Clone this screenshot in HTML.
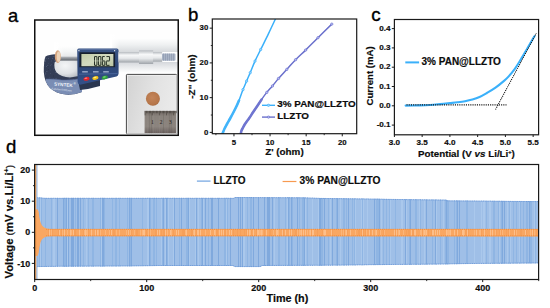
<!DOCTYPE html>
<html><head><meta charset="utf-8"><style>
html,body{margin:0;padding:0;background:#fff;}
body{width:550px;height:308px;overflow:hidden;font-family:"Liberation Sans",sans-serif;}
svg{display:block;}
</style></head><body>
<svg width="550" height="308" viewBox="0 0 550 308">
<rect width="550" height="308" fill="#fff"/>
<text x="8.0" y="21.7" font-size="18.4" font-family="Liberation Sans, sans-serif" fill="#000" stroke="#000" stroke-width="0.35">a</text>
<defs><clipPath id="ph"><rect x="35" y="20.5" width="143" height="114.5"/></clipPath>
<clipPath id="cf"><path id="cfp" d="M45.5,56.5 Q49,54.4 56,54.2 L57.5,60 L54.6,62.5 Q53.6,68 56.5,72.6 Q61,77 70,77.6 L79,76 L82,80 L82,92 Q75,95 66,94.6 Q56,93.5 50,88 Q44.4,82 43.8,72 Q43.8,60 45.5,56.5 Z"/></clipPath>
<radialGradient id="sh1" cx="0.5" cy="0.5" r="0.5"><stop offset="0" stop-color="#c6cace"/><stop offset="0.6" stop-color="#dcdfe2"/><stop offset="1" stop-color="#fdfdfd" stop-opacity="0"/></radialGradient>
<linearGradient id="sil" x1="0" y1="0" x2="0" y2="1"><stop offset="0" stop-color="#b8bcc1"/><stop offset="0.3" stop-color="#f7f8f9"/><stop offset="0.6" stop-color="#e6e8ea"/><stop offset="1" stop-color="#9fa4aa"/></linearGradient>
<linearGradient id="lcd" x1="0" y1="0" x2="1" y2="1"><stop offset="0" stop-color="#c2cca8"/><stop offset="0.5" stop-color="#d2dac0"/><stop offset="1" stop-color="#b9c4a2"/></linearGradient>
<linearGradient id="ins" x1="0" y1="0" x2="1" y2="0.3"><stop offset="0" stop-color="#d2d2d2"/><stop offset="0.55" stop-color="#e2e2e2"/><stop offset="1" stop-color="#eaeaea"/></linearGradient>
<linearGradient id="rul" x1="0" y1="0" x2="0" y2="1"><stop offset="0" stop-color="#6c645f"/><stop offset="0.25" stop-color="#8a837d"/><stop offset="0.7" stop-color="#8c857f"/><stop offset="1" stop-color="#6a605e"/></linearGradient>
<radialGradient id="pel" cx="0.45" cy="0.42" r="0.62"><stop offset="0" stop-color="#c4855a"/><stop offset="0.8" stop-color="#b6764a"/><stop offset="1" stop-color="#a2663e"/></radialGradient>
<linearGradient id="body" x1="0" y1="0" x2="0" y2="1"><stop offset="0" stop-color="#3b5686"/><stop offset="0.5" stop-color="#2d4676"/><stop offset="1" stop-color="#34518a"/></linearGradient>
</defs>
<g clip-path="url(#ph)">
<rect x="35" y="20.5" width="143" height="114.5" fill="#fefefe"/>
<linearGradient id="shA" x1="0" y1="0" x2="0" y2="1"><stop offset="0" stop-color="#ffffff"/><stop offset="0.5" stop-color="#eef0f1"/><stop offset="1" stop-color="#d6d9dc"/></linearGradient>
<linearGradient id="shB" x1="0" y1="0" x2="0" y2="1"><stop offset="0" stop-color="#d5d8dc"/><stop offset="1" stop-color="#ffffff"/></linearGradient>
<linearGradient id="shL" x1="0" y1="0" x2="1" y2="0"><stop offset="0" stop-color="#fff" stop-opacity="1"/><stop offset="1" stop-color="#fff" stop-opacity="0"/></linearGradient>
<rect x="112" y="38" width="66" height="14" fill="url(#shA)"/>
<rect x="112" y="62" width="66" height="11" fill="url(#shB)"/>
<rect x="110" y="34" width="10" height="42" fill="url(#shL)"/>
<rect x="58" y="46" width="20" height="10.5" fill="url(#shA)" opacity="0.6"/>
<rect x="54" y="42" width="10" height="16" fill="url(#shL)"/>
<radialGradient id="cin" cx="0.45" cy="0.3" r="0.7"><stop offset="0" stop-color="#f4f5f6"/><stop offset="0.6" stop-color="#dfe2e5"/><stop offset="1" stop-color="#b5bac0"/></radialGradient>
<rect x="53" y="60" width="27" height="19" fill="url(#cin)"/>
<use href="#cfp" fill="#333d56"/>
<g clip-path="url(#cf)">
<circle cx="53.3" cy="75.9" r="0.4" fill="#1f2638"/>
<circle cx="79.7" cy="72.9" r="0.4" fill="#7e88a2"/>
<circle cx="46.6" cy="53.6" r="0.4" fill="#6e7894"/>
<circle cx="54.1" cy="62.8" r="0.4" fill="#6e7894"/>
<circle cx="65.1" cy="76.1" r="0.4" fill="#6e7894"/>
<circle cx="68.9" cy="59.3" r="0.4" fill="#4a5470"/>
<circle cx="77.9" cy="75.0" r="0.4" fill="#5a6684"/>
<circle cx="70.2" cy="55.7" r="0.4" fill="#7e88a2"/>
<circle cx="45.7" cy="85.8" r="0.4" fill="#1f2638"/>
<circle cx="62.4" cy="83.2" r="0.4" fill="#6e7894"/>
<circle cx="71.9" cy="91.7" r="0.4" fill="#6e7894"/>
<circle cx="72.4" cy="77.2" r="0.4" fill="#4a5470"/>
<circle cx="78.3" cy="57.1" r="0.4" fill="#4a5470"/>
<circle cx="63.3" cy="63.8" r="0.4" fill="#6e7894"/>
<circle cx="74.4" cy="88.9" r="0.4" fill="#6e7894"/>
<circle cx="63.8" cy="69.2" r="0.4" fill="#1f2638"/>
<circle cx="64.8" cy="70.1" r="0.4" fill="#4a5470"/>
<circle cx="79.3" cy="81.6" r="0.4" fill="#5a6684"/>
<circle cx="77.4" cy="94.6" r="0.4" fill="#4a5470"/>
<circle cx="71.2" cy="66.7" r="0.4" fill="#7e88a2"/>
<circle cx="79.3" cy="76.9" r="0.4" fill="#4a5470"/>
<circle cx="68.7" cy="94.5" r="0.4" fill="#1f2638"/>
<circle cx="55.1" cy="55.7" r="0.4" fill="#6e7894"/>
<circle cx="47.5" cy="86.6" r="0.4" fill="#6e7894"/>
<circle cx="79.0" cy="53.8" r="0.4" fill="#6e7894"/>
<circle cx="74.0" cy="89.7" r="0.4" fill="#5a6684"/>
<circle cx="67.6" cy="85.0" r="0.4" fill="#6e7894"/>
<circle cx="72.0" cy="66.9" r="0.4" fill="#1f2638"/>
<circle cx="63.7" cy="94.9" r="0.4" fill="#1f2638"/>
<circle cx="44.3" cy="57.5" r="0.4" fill="#7e88a2"/>
<circle cx="45.2" cy="61.3" r="0.4" fill="#6e7894"/>
<circle cx="55.4" cy="64.1" r="0.4" fill="#5a6684"/>
<circle cx="82.2" cy="67.3" r="0.4" fill="#1f2638"/>
<circle cx="81.4" cy="90.7" r="0.4" fill="#6e7894"/>
<circle cx="58.7" cy="89.5" r="0.4" fill="#6e7894"/>
<circle cx="69.1" cy="78.0" r="0.4" fill="#7e88a2"/>
<circle cx="48.0" cy="93.9" r="0.4" fill="#7e88a2"/>
<circle cx="54.6" cy="79.6" r="0.4" fill="#4a5470"/>
<circle cx="80.5" cy="71.4" r="0.4" fill="#1f2638"/>
<circle cx="64.3" cy="76.0" r="0.4" fill="#5a6684"/>
<circle cx="74.7" cy="94.5" r="0.4" fill="#1f2638"/>
<circle cx="44.8" cy="78.9" r="0.4" fill="#4a5470"/>
<circle cx="46.3" cy="79.3" r="0.4" fill="#6e7894"/>
<circle cx="57.8" cy="91.5" r="0.4" fill="#7e88a2"/>
<circle cx="71.6" cy="84.0" r="0.4" fill="#5a6684"/>
<circle cx="67.0" cy="93.1" r="0.4" fill="#5a6684"/>
<circle cx="81.6" cy="63.5" r="0.4" fill="#6e7894"/>
<circle cx="55.6" cy="78.3" r="0.4" fill="#4a5470"/>
<circle cx="58.2" cy="66.1" r="0.4" fill="#1f2638"/>
<circle cx="76.9" cy="64.1" r="0.4" fill="#6e7894"/>
<circle cx="48.1" cy="87.1" r="0.4" fill="#7e88a2"/>
<circle cx="70.7" cy="58.5" r="0.4" fill="#7e88a2"/>
<circle cx="52.7" cy="86.8" r="0.4" fill="#4a5470"/>
<circle cx="56.8" cy="81.5" r="0.4" fill="#5a6684"/>
<circle cx="48.0" cy="66.5" r="0.4" fill="#1f2638"/>
<circle cx="70.3" cy="62.4" r="0.4" fill="#4a5470"/>
<circle cx="47.1" cy="84.2" r="0.4" fill="#4a5470"/>
<circle cx="78.5" cy="71.9" r="0.4" fill="#4a5470"/>
<circle cx="74.7" cy="54.4" r="0.4" fill="#4a5470"/>
<circle cx="56.3" cy="88.1" r="0.4" fill="#7e88a2"/>
<circle cx="51.2" cy="64.7" r="0.4" fill="#5a6684"/>
<circle cx="75.4" cy="67.5" r="0.4" fill="#4a5470"/>
<circle cx="60.4" cy="74.8" r="0.4" fill="#1f2638"/>
<circle cx="62.1" cy="79.6" r="0.4" fill="#1f2638"/>
<circle cx="60.4" cy="70.2" r="0.4" fill="#6e7894"/>
<circle cx="50.1" cy="53.2" r="0.4" fill="#7e88a2"/>
<circle cx="82.5" cy="71.2" r="0.4" fill="#4a5470"/>
<circle cx="45.3" cy="72.2" r="0.4" fill="#7e88a2"/>
<circle cx="81.6" cy="75.8" r="0.4" fill="#4a5470"/>
<circle cx="77.6" cy="89.0" r="0.4" fill="#1f2638"/>
<circle cx="48.7" cy="63.3" r="0.4" fill="#5a6684"/>
<circle cx="79.2" cy="82.1" r="0.4" fill="#4a5470"/>
<circle cx="79.0" cy="90.8" r="0.4" fill="#7e88a2"/>
<circle cx="45.9" cy="73.2" r="0.4" fill="#5a6684"/>
<circle cx="50.7" cy="65.6" r="0.4" fill="#5a6684"/>
<circle cx="64.5" cy="70.4" r="0.4" fill="#7e88a2"/>
<circle cx="48.4" cy="58.3" r="0.4" fill="#7e88a2"/>
<circle cx="62.6" cy="85.9" r="0.4" fill="#1f2638"/>
<circle cx="52.6" cy="58.1" r="0.4" fill="#5a6684"/>
<circle cx="50.7" cy="86.3" r="0.4" fill="#4a5470"/>
<circle cx="76.1" cy="53.3" r="0.4" fill="#7e88a2"/>
<circle cx="77.6" cy="55.1" r="0.4" fill="#1f2638"/>
<circle cx="53.7" cy="79.0" r="0.4" fill="#7e88a2"/>
<circle cx="60.5" cy="72.9" r="0.4" fill="#5a6684"/>
<circle cx="77.4" cy="85.6" r="0.4" fill="#5a6684"/>
<circle cx="48.9" cy="55.9" r="0.4" fill="#5a6684"/>
<circle cx="77.3" cy="56.6" r="0.4" fill="#7e88a2"/>
<circle cx="63.1" cy="59.6" r="0.4" fill="#5a6684"/>
<circle cx="57.7" cy="80.2" r="0.4" fill="#7e88a2"/>
<circle cx="55.9" cy="64.1" r="0.4" fill="#1f2638"/>
<circle cx="60.7" cy="58.4" r="0.4" fill="#5a6684"/>
<circle cx="71.9" cy="69.0" r="0.4" fill="#5a6684"/>
<circle cx="66.1" cy="54.8" r="0.4" fill="#6e7894"/>
<circle cx="67.6" cy="85.9" r="0.4" fill="#6e7894"/>
<circle cx="68.8" cy="54.8" r="0.4" fill="#6e7894"/>
<circle cx="46.1" cy="79.4" r="0.4" fill="#1f2638"/>
<circle cx="60.4" cy="82.2" r="0.4" fill="#6e7894"/>
<circle cx="44.7" cy="62.2" r="0.4" fill="#1f2638"/>
<circle cx="71.1" cy="56.0" r="0.4" fill="#6e7894"/>
<circle cx="52.8" cy="58.5" r="0.4" fill="#5a6684"/>
<circle cx="80.5" cy="68.7" r="0.4" fill="#7e88a2"/>
<circle cx="74.8" cy="64.0" r="0.4" fill="#6e7894"/>
<circle cx="70.9" cy="92.4" r="0.4" fill="#7e88a2"/>
<circle cx="74.9" cy="81.0" r="0.4" fill="#1f2638"/>
<circle cx="66.0" cy="57.3" r="0.4" fill="#7e88a2"/>
<circle cx="71.9" cy="72.9" r="0.4" fill="#4a5470"/>
<circle cx="74.2" cy="54.9" r="0.4" fill="#5a6684"/>
<circle cx="66.0" cy="80.7" r="0.4" fill="#6e7894"/>
<circle cx="51.0" cy="54.0" r="0.4" fill="#5a6684"/>
<circle cx="45.0" cy="57.8" r="0.4" fill="#6e7894"/>
<circle cx="76.6" cy="93.0" r="0.4" fill="#7e88a2"/>
<circle cx="55.7" cy="56.7" r="0.4" fill="#7e88a2"/>
<circle cx="63.9" cy="83.0" r="0.4" fill="#5a6684"/>
<circle cx="65.6" cy="57.2" r="0.4" fill="#7e88a2"/>
<circle cx="46.4" cy="66.6" r="0.4" fill="#7e88a2"/>
<circle cx="51.0" cy="56.2" r="0.4" fill="#4a5470"/>
<circle cx="69.2" cy="72.1" r="0.4" fill="#6e7894"/>
<circle cx="53.9" cy="78.2" r="0.4" fill="#1f2638"/>
<circle cx="65.7" cy="93.6" r="0.4" fill="#6e7894"/>
<circle cx="63.5" cy="93.9" r="0.4" fill="#6e7894"/>
<circle cx="76.9" cy="93.6" r="0.4" fill="#6e7894"/>
<circle cx="70.9" cy="84.8" r="0.4" fill="#7e88a2"/>
<circle cx="70.7" cy="59.6" r="0.4" fill="#6e7894"/>
<circle cx="79.0" cy="59.3" r="0.4" fill="#5a6684"/>
<circle cx="63.4" cy="73.3" r="0.4" fill="#7e88a2"/>
<circle cx="81.1" cy="77.6" r="0.4" fill="#4a5470"/>
<circle cx="49.3" cy="84.6" r="0.4" fill="#4a5470"/>
<circle cx="66.8" cy="66.2" r="0.4" fill="#4a5470"/>
<circle cx="77.2" cy="75.6" r="0.4" fill="#1f2638"/>
<circle cx="70.2" cy="88.9" r="0.4" fill="#7e88a2"/>
<circle cx="77.3" cy="77.6" r="0.4" fill="#1f2638"/>
<circle cx="78.7" cy="65.9" r="0.4" fill="#1f2638"/>
<circle cx="62.7" cy="69.1" r="0.4" fill="#4a5470"/>
<circle cx="66.2" cy="63.0" r="0.4" fill="#6e7894"/>
<circle cx="74.2" cy="59.0" r="0.4" fill="#6e7894"/>
<circle cx="71.4" cy="61.6" r="0.4" fill="#7e88a2"/>
<circle cx="76.5" cy="87.5" r="0.4" fill="#7e88a2"/>
<circle cx="45.1" cy="94.7" r="0.4" fill="#5a6684"/>
<circle cx="77.4" cy="69.8" r="0.4" fill="#5a6684"/>
<circle cx="62.2" cy="62.6" r="0.4" fill="#4a5470"/>
<circle cx="69.3" cy="85.6" r="0.4" fill="#5a6684"/>
<circle cx="81.4" cy="88.9" r="0.4" fill="#4a5470"/>
<circle cx="78.7" cy="85.6" r="0.4" fill="#4a5470"/>
<circle cx="51.3" cy="82.6" r="0.4" fill="#5a6684"/>
<circle cx="79.1" cy="63.7" r="0.4" fill="#5a6684"/>
<circle cx="56.2" cy="70.8" r="0.4" fill="#5a6684"/>
<circle cx="48.6" cy="64.1" r="0.4" fill="#1f2638"/>
<circle cx="45.4" cy="72.0" r="0.4" fill="#1f2638"/>
<circle cx="44.3" cy="67.1" r="0.4" fill="#6e7894"/>
<circle cx="58.8" cy="56.3" r="0.4" fill="#7e88a2"/>
<circle cx="73.0" cy="73.6" r="0.4" fill="#4a5470"/>
<circle cx="65.2" cy="58.0" r="0.4" fill="#1f2638"/>
<circle cx="47.0" cy="71.2" r="0.4" fill="#6e7894"/>
<circle cx="78.6" cy="91.2" r="0.4" fill="#5a6684"/>
<circle cx="64.6" cy="82.4" r="0.4" fill="#1f2638"/>
<circle cx="73.5" cy="65.4" r="0.4" fill="#1f2638"/>
<circle cx="48.2" cy="92.7" r="0.4" fill="#1f2638"/>
<circle cx="70.2" cy="75.5" r="0.4" fill="#5a6684"/>
<circle cx="70.0" cy="74.4" r="0.4" fill="#5a6684"/>
<circle cx="72.0" cy="81.5" r="0.4" fill="#7e88a2"/>
<circle cx="72.9" cy="80.1" r="0.4" fill="#4a5470"/>
<circle cx="51.0" cy="90.4" r="0.4" fill="#6e7894"/>
<circle cx="48.8" cy="92.1" r="0.4" fill="#4a5470"/>
<circle cx="79.9" cy="80.1" r="0.4" fill="#7e88a2"/>
<circle cx="60.4" cy="65.6" r="0.4" fill="#4a5470"/>
<circle cx="61.9" cy="66.1" r="0.4" fill="#4a5470"/>
<circle cx="71.5" cy="57.5" r="0.4" fill="#4a5470"/>
<circle cx="73.4" cy="75.8" r="0.4" fill="#6e7894"/>
<circle cx="58.0" cy="64.2" r="0.4" fill="#6e7894"/>
<circle cx="46.1" cy="58.7" r="0.4" fill="#6e7894"/>
<circle cx="63.7" cy="63.4" r="0.4" fill="#7e88a2"/>
<circle cx="57.8" cy="67.0" r="0.4" fill="#6e7894"/>
<circle cx="61.5" cy="87.0" r="0.4" fill="#5a6684"/>
<circle cx="57.8" cy="88.6" r="0.4" fill="#5a6684"/>
<circle cx="49.9" cy="77.8" r="0.4" fill="#5a6684"/>
<circle cx="66.0" cy="91.2" r="0.4" fill="#5a6684"/>
<circle cx="51.2" cy="60.9" r="0.4" fill="#6e7894"/>
<circle cx="70.1" cy="69.4" r="0.4" fill="#4a5470"/>
<circle cx="67.1" cy="59.2" r="0.4" fill="#6e7894"/>
<circle cx="75.1" cy="75.9" r="0.4" fill="#4a5470"/>
<circle cx="66.2" cy="61.5" r="0.4" fill="#1f2638"/>
<circle cx="58.4" cy="65.3" r="0.4" fill="#6e7894"/>
<circle cx="78.8" cy="92.9" r="0.4" fill="#6e7894"/>
<circle cx="56.3" cy="91.1" r="0.4" fill="#1f2638"/>
<circle cx="68.7" cy="94.0" r="0.4" fill="#1f2638"/>
<circle cx="78.9" cy="81.0" r="0.4" fill="#5a6684"/>
<circle cx="67.5" cy="83.5" r="0.4" fill="#5a6684"/>
<circle cx="48.2" cy="84.8" r="0.4" fill="#4a5470"/>
<circle cx="63.2" cy="75.0" r="0.4" fill="#6e7894"/>
<circle cx="51.8" cy="85.9" r="0.4" fill="#4a5470"/>
<circle cx="45.4" cy="74.0" r="0.4" fill="#6e7894"/>
<circle cx="48.4" cy="64.9" r="0.4" fill="#4a5470"/>
<circle cx="49.3" cy="86.3" r="0.4" fill="#7e88a2"/>
<circle cx="80.0" cy="54.1" r="0.4" fill="#7e88a2"/>
<circle cx="53.1" cy="56.3" r="0.4" fill="#7e88a2"/>
<circle cx="44.7" cy="67.3" r="0.4" fill="#1f2638"/>
<circle cx="77.9" cy="82.2" r="0.4" fill="#4a5470"/>
<circle cx="47.1" cy="88.2" r="0.4" fill="#5a6684"/>
<circle cx="71.9" cy="84.1" r="0.4" fill="#1f2638"/>
<circle cx="82.9" cy="61.6" r="0.4" fill="#5a6684"/>
<circle cx="77.6" cy="71.4" r="0.4" fill="#4a5470"/>
<circle cx="62.9" cy="57.6" r="0.4" fill="#5a6684"/>
<circle cx="59.9" cy="88.5" r="0.4" fill="#4a5470"/>
<circle cx="59.3" cy="72.9" r="0.4" fill="#5a6684"/>
<circle cx="65.0" cy="70.7" r="0.4" fill="#6e7894"/>
<circle cx="55.9" cy="72.5" r="0.4" fill="#6e7894"/>
<circle cx="61.1" cy="72.1" r="0.4" fill="#5a6684"/>
<circle cx="72.1" cy="68.4" r="0.4" fill="#1f2638"/>
<circle cx="61.5" cy="68.2" r="0.4" fill="#6e7894"/>
<circle cx="52.7" cy="53.1" r="0.4" fill="#4a5470"/>
<circle cx="54.1" cy="68.5" r="0.4" fill="#6e7894"/>
<circle cx="64.8" cy="59.7" r="0.4" fill="#5a6684"/>
<circle cx="50.7" cy="70.0" r="0.4" fill="#4a5470"/>
<circle cx="68.8" cy="58.8" r="0.4" fill="#7e88a2"/>
<circle cx="50.6" cy="73.6" r="0.4" fill="#5a6684"/>
<circle cx="76.8" cy="69.9" r="0.4" fill="#1f2638"/>
<circle cx="59.9" cy="82.5" r="0.4" fill="#5a6684"/>
<circle cx="53.3" cy="54.6" r="0.4" fill="#6e7894"/>
<circle cx="45.0" cy="93.6" r="0.4" fill="#4a5470"/>
<circle cx="53.4" cy="69.3" r="0.4" fill="#4a5470"/>
<circle cx="50.4" cy="79.1" r="0.4" fill="#1f2638"/>
<circle cx="79.6" cy="78.0" r="0.4" fill="#1f2638"/>
<circle cx="54.7" cy="86.1" r="0.4" fill="#6e7894"/>
<circle cx="74.8" cy="93.4" r="0.4" fill="#6e7894"/>
<circle cx="53.7" cy="64.2" r="0.4" fill="#1f2638"/>
<circle cx="68.5" cy="67.5" r="0.4" fill="#5a6684"/>
<circle cx="46.2" cy="71.3" r="0.4" fill="#5a6684"/>
<circle cx="67.1" cy="53.2" r="0.4" fill="#5a6684"/>
<circle cx="70.6" cy="53.8" r="0.4" fill="#7e88a2"/>
<circle cx="45.4" cy="55.3" r="0.4" fill="#7e88a2"/>
<circle cx="79.1" cy="61.4" r="0.4" fill="#6e7894"/>
<circle cx="57.3" cy="73.1" r="0.4" fill="#1f2638"/>
<circle cx="80.7" cy="54.4" r="0.4" fill="#1f2638"/>
<circle cx="73.3" cy="79.5" r="0.4" fill="#6e7894"/>
<circle cx="47.4" cy="65.3" r="0.4" fill="#6e7894"/>
<circle cx="48.5" cy="69.4" r="0.4" fill="#1f2638"/>
<circle cx="64.9" cy="85.7" r="0.4" fill="#6e7894"/>
<circle cx="50.8" cy="84.1" r="0.4" fill="#6e7894"/>
<circle cx="76.6" cy="76.2" r="0.4" fill="#4a5470"/>
<circle cx="58.2" cy="70.4" r="0.4" fill="#4a5470"/>
<circle cx="61.3" cy="82.5" r="0.4" fill="#1f2638"/>
<circle cx="54.5" cy="60.1" r="0.4" fill="#7e88a2"/>
<circle cx="79.7" cy="82.3" r="0.4" fill="#6e7894"/>
<circle cx="45.7" cy="60.2" r="0.4" fill="#5a6684"/>
<circle cx="76.1" cy="56.9" r="0.4" fill="#5a6684"/>
<circle cx="56.5" cy="78.2" r="0.4" fill="#5a6684"/>
<circle cx="78.3" cy="89.6" r="0.4" fill="#6e7894"/>
<circle cx="62.2" cy="89.5" r="0.4" fill="#1f2638"/>
<circle cx="82.9" cy="53.1" r="0.4" fill="#4a5470"/>
<circle cx="59.6" cy="93.1" r="0.4" fill="#5a6684"/>
<circle cx="57.2" cy="66.1" r="0.4" fill="#6e7894"/>
<circle cx="47.2" cy="80.3" r="0.4" fill="#4a5470"/>
<circle cx="70.8" cy="94.1" r="0.4" fill="#4a5470"/>
<circle cx="66.8" cy="53.5" r="0.4" fill="#4a5470"/>
<circle cx="55.2" cy="61.8" r="0.4" fill="#7e88a2"/>
<circle cx="64.1" cy="74.2" r="0.4" fill="#7e88a2"/>
<circle cx="56.4" cy="90.1" r="0.4" fill="#4a5470"/>
<circle cx="62.2" cy="79.1" r="0.4" fill="#5a6684"/>
<circle cx="76.2" cy="57.7" r="0.4" fill="#5a6684"/>
<circle cx="77.5" cy="57.3" r="0.4" fill="#1f2638"/>
<path d="M46,79 Q55,78.5 62,80 Q72,80.6 82,78.3 L82,96 L40,96 Z" fill="#7a8db4"/>
<path d="M46,79 Q55,78.5 62,80 Q72,80.6 82,78.3" fill="none" stroke="#4f6290" stroke-width="0.6"/>
</g>
<text x="54" y="85.6" font-size="4.6" font-weight="bold" font-family="Liberation Sans, sans-serif" fill="#f2f5fa" transform="rotate(4 54 85)">SYNTEK</text>
<text x="73.6" y="85" font-size="3" font-weight="bold" font-family="Liberation Sans, sans-serif" fill="#f2f5fa">®</text>
<text x="51.5" y="89.5" font-size="2.5" font-family="Liberation Sans, sans-serif" fill="#e4e9f2" transform="rotate(6 51 89)">0-25mm 0.001mm</text>
<linearGradient id="sil2" x1="0" y1="0" x2="0" y2="1"><stop offset="0" stop-color="#c4c7cb"/><stop offset="0.35" stop-color="#9a9ea4"/><stop offset="1" stop-color="#5e636b"/></linearGradient>
<rect x="58" y="56.4" width="21" height="4.2" fill="url(#sil2)"/>
<ellipse cx="57.8" cy="56.6" rx="3.0" ry="6.3" fill="#d4a27c"/>
<ellipse cx="58.6" cy="56.8" rx="1.9" ry="5.3" fill="#ecd3b8"/>
<path d="M78,80 L100,80 L100,86 Q90,89 80,90 Z" fill="#2a3650"/>
<path d="M77.2,50.2 Q77.2,48.6 78.8,48.6 L116.8,48.6 Q118.6,48.6 118.6,50.4 L118.6,73.5 Q118.4,76 116.5,76.4 L81,84.6 Q78.2,85 77.6,82 Z" fill="url(#body)"/>
<path d="M78.6,49.3 L117,49.3" stroke="#6b83b0" stroke-width="0.7"/>
<rect x="78.3" y="50.1" width="1.2" height="1.1" fill="#e8ecf2"/><rect x="114" y="50.1" width="1.2" height="1.1" fill="#e8ecf2"/>
<rect x="79.4" y="52.3" width="35.7" height="14.9" fill="#17202e"/>
<rect x="81.4" y="54" width="32" height="12.2" fill="url(#lcd)"/>
<rect x="94.57" y="56.10" width="2.26" height="0.95" fill="#1e281e"/>
<rect x="94.57" y="64.85" width="2.26" height="0.95" fill="#1e281e"/>
<rect x="94.00" y="56.58" width="0.95" height="4.09" fill="#1e281e"/>
<rect x="96.45" y="56.58" width="0.95" height="4.09" fill="#1e281e"/>
<rect x="94.00" y="61.23" width="0.95" height="4.09" fill="#1e281e"/>
<rect x="96.45" y="61.23" width="0.95" height="4.09" fill="#1e281e"/>
<rect x="98.52" y="56.10" width="2.26" height="0.95" fill="#1e281e"/>
<rect x="98.52" y="64.85" width="2.26" height="0.95" fill="#1e281e"/>
<rect x="97.95" y="56.58" width="0.95" height="4.09" fill="#1e281e"/>
<rect x="100.40" y="56.58" width="0.95" height="4.09" fill="#1e281e"/>
<rect x="97.95" y="61.23" width="0.95" height="4.09" fill="#1e281e"/>
<rect x="100.40" y="61.23" width="0.95" height="4.09" fill="#1e281e"/>
<rect x="102.47" y="56.10" width="2.26" height="0.95" fill="#1e281e"/>
<rect x="102.47" y="64.85" width="2.26" height="0.95" fill="#1e281e"/>
<rect x="102.47" y="60.48" width="2.26" height="0.95" fill="#1e281e"/>
<rect x="101.90" y="56.58" width="0.95" height="4.09" fill="#1e281e"/>
<rect x="101.90" y="61.23" width="0.95" height="4.09" fill="#1e281e"/>
<rect x="104.35" y="61.23" width="0.95" height="4.09" fill="#1e281e"/>
<rect x="106.42" y="56.10" width="3.06" height="0.95" fill="#1e281e"/>
<rect x="106.42" y="64.85" width="3.06" height="0.95" fill="#1e281e"/>
<rect x="106.42" y="60.48" width="3.06" height="0.95" fill="#1e281e"/>
<rect x="109.10" y="56.58" width="0.95" height="4.09" fill="#1e281e"/>
<rect x="105.85" y="61.23" width="0.95" height="4.09" fill="#1e281e"/>
<rect x="82.2" y="71.3" width="5.6" height="1.1" fill="#b8c6e0"/>
<rect x="93.0" y="71.3" width="5.6" height="1.1" fill="#b8c6e0"/>
<rect x="103.2" y="71.3" width="5.6" height="1.1" fill="#b8c6e0"/>
<path d="M79,74.2 L117.5,73.6" stroke="#5170a6" stroke-width="0.7"/>
<ellipse cx="86.5" cy="78.8" rx="3.1" ry="1.9" fill="#e3232a" transform="rotate(-12 86.5 78.8)"/>
<ellipse cx="86.0" cy="78.3" rx="1.6" ry="0.7" fill="#ff7a7a" transform="rotate(-12 86 78.3)"/>
<ellipse cx="95.4" cy="78.0" rx="3.1" ry="1.9" fill="#f2c21a" transform="rotate(-12 95.4 78)"/>
<ellipse cx="95.0" cy="77.5" rx="1.6" ry="0.7" fill="#fff07a" transform="rotate(-12 95 77.5)"/>
<ellipse cx="104.8" cy="77.5" rx="3.1" ry="1.9" fill="#2ea23c" transform="rotate(-12 104.8 77.5)"/>
<ellipse cx="104.4" cy="77.0" rx="1.6" ry="0.7" fill="#7ad67a" transform="rotate(-12 104.4 77)"/>
<rect x="118.4" y="52" width="21" height="10.5" fill="url(#sil)"/>
<rect x="139" y="50.3" width="14.2" height="13.7" fill="url(#sil)"/>
<rect x="153" y="52" width="9.2" height="9.8" fill="url(#sil)"/>
<rect x="162" y="53.5" width="13.5" height="7.3" rx="1" fill="#a9b4c6"/>
<rect x="163.0" y="53.6" width="0.9" height="7.1" fill="#8a96ac" opacity="0.7"/>
<rect x="165.0" y="53.6" width="0.9" height="7.1" fill="#8a96ac" opacity="0.7"/>
<rect x="167.0" y="53.6" width="0.9" height="7.1" fill="#8a96ac" opacity="0.7"/>
<rect x="169.0" y="53.6" width="0.9" height="7.1" fill="#8a96ac" opacity="0.7"/>
<rect x="171.0" y="53.6" width="0.9" height="7.1" fill="#8a96ac" opacity="0.7"/>
<rect x="173.0" y="53.6" width="0.9" height="7.1" fill="#8a96ac" opacity="0.7"/>
<rect x="126.4" y="74.4" width="50.2" height="59.2" rx="0.8" fill="url(#ins)" stroke="#484848" stroke-width="1"/>
<rect x="127.4" y="75.4" width="49" height="58" fill="none" stroke="#f2f2f2" stroke-width="0.7"/>
<circle cx="152.9" cy="98.7" r="7.0" fill="url(#pel)"/>
<rect x="144.6" y="110.9" width="31.4" height="22.2" fill="url(#rul)"/>
<rect x="145.5" y="111" width="0.7" height="22.3" fill="#9a928c" opacity="0.35"/>
<rect x="147.4" y="111" width="0.7" height="22.3" fill="#9a928c" opacity="0.35"/>
<rect x="149.4" y="111" width="0.7" height="22.3" fill="#5a524c" opacity="0.35"/>
<rect x="151.3" y="111" width="0.7" height="22.3" fill="#5a524c" opacity="0.35"/>
<rect x="153.3" y="111" width="0.7" height="22.3" fill="#9a928c" opacity="0.35"/>
<rect x="155.2" y="111" width="0.7" height="22.3" fill="#8a827c" opacity="0.35"/>
<rect x="157.2" y="111" width="0.7" height="22.3" fill="#8a827c" opacity="0.35"/>
<rect x="159.2" y="111" width="0.7" height="22.3" fill="#9a928c" opacity="0.35"/>
<rect x="161.1" y="111" width="0.7" height="22.3" fill="#8a827c" opacity="0.35"/>
<rect x="163.1" y="111" width="0.7" height="22.3" fill="#5a524c" opacity="0.35"/>
<rect x="165.0" y="111" width="0.7" height="22.3" fill="#8a827c" opacity="0.35"/>
<rect x="166.9" y="111" width="0.7" height="22.3" fill="#8a827c" opacity="0.35"/>
<rect x="168.9" y="111" width="0.7" height="22.3" fill="#5a524c" opacity="0.35"/>
<rect x="170.8" y="111" width="0.7" height="22.3" fill="#5a524c" opacity="0.35"/>
<rect x="172.8" y="111" width="0.7" height="22.3" fill="#8a827c" opacity="0.35"/>
<rect x="174.8" y="111" width="0.7" height="22.3" fill="#8a827c" opacity="0.35"/>
<rect x="144.80" y="110.8" width="0.5" height="4.5" fill="#3c3833"/>
<rect x="146.22" y="110.8" width="0.5" height="2.4" fill="#3c3833"/>
<rect x="147.64" y="110.8" width="0.5" height="2.4" fill="#3c3833"/>
<rect x="149.06" y="110.8" width="0.5" height="2.4" fill="#3c3833"/>
<rect x="150.48" y="110.8" width="0.5" height="2.4" fill="#3c3833"/>
<rect x="151.90" y="110.8" width="0.5" height="4.5" fill="#3c3833"/>
<rect x="153.32" y="110.8" width="0.5" height="2.4" fill="#3c3833"/>
<rect x="154.74" y="110.8" width="0.5" height="2.4" fill="#3c3833"/>
<rect x="156.16" y="110.8" width="0.5" height="2.4" fill="#3c3833"/>
<rect x="157.58" y="110.8" width="0.5" height="2.4" fill="#3c3833"/>
<rect x="159.00" y="110.8" width="0.5" height="4.5" fill="#3c3833"/>
<rect x="160.42" y="110.8" width="0.5" height="2.4" fill="#3c3833"/>
<rect x="161.84" y="110.8" width="0.5" height="2.4" fill="#3c3833"/>
<rect x="163.26" y="110.8" width="0.5" height="2.4" fill="#3c3833"/>
<rect x="164.68" y="110.8" width="0.5" height="2.4" fill="#3c3833"/>
<rect x="166.10" y="110.8" width="0.5" height="4.5" fill="#3c3833"/>
<rect x="167.52" y="110.8" width="0.5" height="2.4" fill="#3c3833"/>
<rect x="168.94" y="110.8" width="0.5" height="2.4" fill="#3c3833"/>
<rect x="170.36" y="110.8" width="0.5" height="2.4" fill="#3c3833"/>
<rect x="171.78" y="110.8" width="0.5" height="2.4" fill="#3c3833"/>
<rect x="173.20" y="110.8" width="0.5" height="4.5" fill="#3c3833"/>
<rect x="174.62" y="110.8" width="0.5" height="2.4" fill="#3c3833"/>
<rect x="176.04" y="110.8" width="0.5" height="2.4" fill="#3c3833"/>
<text x="152.3" y="124.0" font-size="5.4" font-family="Liberation Serif, serif" fill="#1e1a16" text-anchor="middle">1</text>
<text x="161.2" y="124.0" font-size="5.4" font-family="Liberation Serif, serif" fill="#1e1a16" text-anchor="middle">2</text>
<text x="170.3" y="124.0" font-size="5.4" font-family="Liberation Serif, serif" fill="#1e1a16" text-anchor="middle">3</text>
</g>
<rect x="34.75" y="20" width="143.5" height="115.3" fill="none" stroke="#111" stroke-width="1.5"/>
<text x="188.1" y="21.4" font-size="18.6" font-family="Liberation Sans, sans-serif" fill="#000" stroke="#000" stroke-width="0.35">b</text>
<clipPath id="bclip"><rect x="212.3" y="19.0" width="144.4" height="114.7"/></clipPath>
<g clip-path="url(#bclip)">
<path d="M240.80,133.60 C240.92,133.10 241.20,131.47 241.50,130.60 C241.80,129.73 242.02,129.50 242.60,128.40 C243.18,127.30 243.88,125.73 245.00,124.00 C246.12,122.27 247.93,120.00 249.30,118.00 C250.67,116.00 251.87,114.00 253.20,112.00 C254.53,110.00 255.92,108.07 257.30,106.00 C258.68,103.93 259.92,101.87 261.50,99.60 C263.08,97.33 264.97,94.68 266.80,92.40 C268.63,90.12 270.55,88.22 272.50,85.90 C274.45,83.58 276.12,81.25 278.50,78.50 C280.88,75.75 283.95,72.53 286.80,69.40 C289.65,66.27 292.47,62.92 295.60,59.70 C298.73,56.48 301.87,53.77 305.60,50.10 C309.33,46.43 313.63,42.03 318.00,37.70 C322.37,33.37 329.50,26.37 331.80,24.10" fill="none" stroke="#6a70cc" stroke-width="1.5" stroke-linejoin="round"/>
<path d="M240.80,133.60 C240.92,133.10 241.20,131.47 241.50,130.60 C241.80,129.73 242.02,129.50 242.60,128.40 C243.18,127.30 243.88,125.73 245.00,124.00 C246.12,122.27 247.93,120.00 249.30,118.00 C250.67,116.00 251.87,114.00 253.20,112.00 C254.53,110.00 255.92,108.07 257.30,106.00 C258.68,103.93 260.80,100.67 261.50,99.60" fill="none" stroke="#6f75d0" stroke-width="2.6" stroke-linejoin="round" stroke-linecap="round"/>
<circle cx="266.8" cy="92.4" r="1.2" fill="#b4b8f0" stroke="#6a70cc" stroke-width="0.6"/>
<circle cx="272.5" cy="85.9" r="1.2" fill="#b4b8f0" stroke="#6a70cc" stroke-width="0.6"/>
<circle cx="278.5" cy="78.5" r="1.2" fill="#b4b8f0" stroke="#6a70cc" stroke-width="0.6"/>
<circle cx="286.8" cy="69.4" r="1.2" fill="#b4b8f0" stroke="#6a70cc" stroke-width="0.6"/>
<circle cx="295.6" cy="59.7" r="1.2" fill="#b4b8f0" stroke="#6a70cc" stroke-width="0.6"/>
<circle cx="305.6" cy="50.1" r="1.2" fill="#b4b8f0" stroke="#6a70cc" stroke-width="0.6"/>
<circle cx="318.0" cy="37.7" r="1.2" fill="#b4b8f0" stroke="#6a70cc" stroke-width="0.6"/>
<circle cx="331.8" cy="24.1" r="1.2" fill="#b4b8f0" stroke="#6a70cc" stroke-width="0.6"/>
<path d="M222.60,133.50 C222.93,132.67 223.87,130.08 224.60,128.50 C225.33,126.92 226.03,125.75 227.00,124.00 C227.97,122.25 229.30,120.00 230.40,118.00 C231.50,116.00 232.57,114.00 233.60,112.00 C234.63,110.00 235.70,107.92 236.60,106.00 C237.50,104.08 237.93,103.23 239.00,100.50 C240.07,97.77 241.73,92.83 243.00,89.60 C244.27,86.37 245.40,83.92 246.60,81.10 C247.80,78.28 248.80,76.03 250.20,72.70 C251.60,69.37 253.25,64.97 255.00,61.10 C256.75,57.23 258.47,54.03 260.70,49.50 C262.93,44.97 265.92,39.05 268.40,33.90 C270.88,28.75 274.40,21.15 275.60,18.60" fill="none" stroke="#3ab0fa" stroke-width="1.5" stroke-linejoin="round"/>
<path d="M222.60,133.50 C222.93,132.67 223.87,130.08 224.60,128.50 C225.33,126.92 226.03,125.75 227.00,124.00 C227.97,122.25 229.30,120.00 230.40,118.00 C231.50,116.00 232.57,114.00 233.60,112.00 C234.63,110.00 235.70,107.92 236.60,106.00 C237.50,104.08 238.60,101.42 239.00,100.50" fill="none" stroke="#42b4fa" stroke-width="2.6" stroke-linejoin="round" stroke-linecap="round"/>
<circle cx="243.0" cy="89.6" r="1.2" fill="#96d4ff" stroke="#3ab0fa" stroke-width="0.6"/>
<circle cx="246.6" cy="81.1" r="1.2" fill="#96d4ff" stroke="#3ab0fa" stroke-width="0.6"/>
<circle cx="250.2" cy="72.7" r="1.2" fill="#96d4ff" stroke="#3ab0fa" stroke-width="0.6"/>
<circle cx="255.0" cy="61.1" r="1.2" fill="#96d4ff" stroke="#3ab0fa" stroke-width="0.6"/>
<circle cx="260.7" cy="49.5" r="1.2" fill="#96d4ff" stroke="#3ab0fa" stroke-width="0.6"/>
</g>
<rect x="212.3" y="19.0" width="144.4" height="114.7" fill="none" stroke="#1a1a1a" stroke-width="1.2"/>
<line x1="209.7" y1="132.40" x2="212.3" y2="132.40" stroke="#1a1a1a" stroke-width="1"/>
<text x="208.3" y="134.60" font-size="7.8" font-weight="bold" font-family="Liberation Sans, sans-serif" text-anchor="end" fill="#0c0c0c" stroke="#0c0c0c" stroke-width="0.18">0</text>
<line x1="209.7" y1="97.65" x2="212.3" y2="97.65" stroke="#1a1a1a" stroke-width="1"/>
<text x="208.3" y="99.85" font-size="7.8" font-weight="bold" font-family="Liberation Sans, sans-serif" text-anchor="end" fill="#0c0c0c" stroke="#0c0c0c" stroke-width="0.18">10</text>
<line x1="209.7" y1="62.90" x2="212.3" y2="62.90" stroke="#1a1a1a" stroke-width="1"/>
<text x="208.3" y="65.10" font-size="7.8" font-weight="bold" font-family="Liberation Sans, sans-serif" text-anchor="end" fill="#0c0c0c" stroke="#0c0c0c" stroke-width="0.18">20</text>
<line x1="209.7" y1="28.15" x2="212.3" y2="28.15" stroke="#1a1a1a" stroke-width="1"/>
<text x="208.3" y="30.35" font-size="7.8" font-weight="bold" font-family="Liberation Sans, sans-serif" text-anchor="end" fill="#0c0c0c" stroke="#0c0c0c" stroke-width="0.18">30</text>
<line x1="210.8" y1="115.03" x2="212.3" y2="115.03" stroke="#1a1a1a" stroke-width="0.9"/>
<line x1="210.8" y1="80.28" x2="212.3" y2="80.28" stroke="#1a1a1a" stroke-width="0.9"/>
<line x1="210.8" y1="45.53" x2="212.3" y2="45.53" stroke="#1a1a1a" stroke-width="0.9"/>
<line x1="233.96" y1="133.7" x2="233.96" y2="136.3" stroke="#1a1a1a" stroke-width="1"/>
<text x="233.96" y="144.6" font-size="7.8" font-weight="bold" font-family="Liberation Sans, sans-serif" text-anchor="middle" fill="#0c0c0c" stroke="#0c0c0c" stroke-width="0.18">5</text>
<line x1="270.06" y1="133.7" x2="270.06" y2="136.3" stroke="#1a1a1a" stroke-width="1"/>
<text x="270.06" y="144.6" font-size="7.8" font-weight="bold" font-family="Liberation Sans, sans-serif" text-anchor="middle" fill="#0c0c0c" stroke="#0c0c0c" stroke-width="0.18">10</text>
<line x1="306.16" y1="133.7" x2="306.16" y2="136.3" stroke="#1a1a1a" stroke-width="1"/>
<text x="306.16" y="144.6" font-size="7.8" font-weight="bold" font-family="Liberation Sans, sans-serif" text-anchor="middle" fill="#0c0c0c" stroke="#0c0c0c" stroke-width="0.18">15</text>
<line x1="342.26" y1="133.7" x2="342.26" y2="136.3" stroke="#1a1a1a" stroke-width="1"/>
<text x="342.26" y="144.6" font-size="7.8" font-weight="bold" font-family="Liberation Sans, sans-serif" text-anchor="middle" fill="#0c0c0c" stroke="#0c0c0c" stroke-width="0.18">20</text>
<line x1="215.91" y1="133.7" x2="215.91" y2="135.2" stroke="#1a1a1a" stroke-width="0.9"/>
<line x1="252.01" y1="133.7" x2="252.01" y2="135.2" stroke="#1a1a1a" stroke-width="0.9"/>
<line x1="288.11" y1="133.7" x2="288.11" y2="135.2" stroke="#1a1a1a" stroke-width="0.9"/>
<line x1="324.21" y1="133.7" x2="324.21" y2="135.2" stroke="#1a1a1a" stroke-width="0.9"/>
<text x="284.4" y="154.7" font-size="9.9" font-weight="bold" font-family="Liberation Sans, sans-serif" text-anchor="middle" fill="#0c0c0c" stroke="#0c0c0c" stroke-width="0.18">Z' (ohm)</text>
<text transform="translate(195.1 76.6) rotate(-90)" font-size="9.9" font-weight="bold" font-family="Liberation Sans, sans-serif" text-anchor="middle" fill="#0c0c0c" stroke="#0c0c0c" stroke-width="0.18">-Z'' (ohm)</text>
<line x1="262" y1="105.3" x2="275" y2="105.3" stroke="#3ab0fa" stroke-width="1.4"/><circle cx="268.5" cy="105.3" r="1.2" fill="#96d4ff" stroke="#3ab0fa" stroke-width="0.6"/>
<text x="277.3" y="106.9" font-size="9.9" font-weight="bold" font-family="Liberation Sans, sans-serif" fill="#0c0c0c" stroke="#0c0c0c" stroke-width="0.18">3% PAN@LLZTO</text>
<line x1="262" y1="117.1" x2="275" y2="117.1" stroke="#6a70cc" stroke-width="1.4"/><circle cx="268.5" cy="117.1" r="1.2" fill="#b0b4ee" stroke="#6a70cc" stroke-width="0.6"/>
<text x="277.3" y="118.6" font-size="9.9" font-weight="bold" font-family="Liberation Sans, sans-serif" fill="#0c0c0c" stroke="#0c0c0c" stroke-width="0.18">LLZTO</text>
<text x="371.3" y="20.9" font-size="18.8" font-family="Liberation Sans, sans-serif" fill="#000" stroke="#000" stroke-width="0.35">c</text>
<path d="M405.60,105.60 C408.00,105.57 415.93,105.50 420.00,105.40 C424.07,105.30 426.67,105.22 430.00,105.00 C433.33,104.78 436.67,104.42 440.00,104.10 C443.33,103.78 447.08,103.40 450.00,103.10 C452.92,102.80 455.00,102.62 457.50,102.30 C460.00,101.98 462.52,101.67 465.00,101.20 C467.48,100.73 469.98,100.20 472.40,99.50 C474.82,98.80 477.08,98.08 479.50,97.00 C481.92,95.92 484.23,94.55 486.90,93.00 C489.57,91.45 492.65,89.72 495.50,87.70 C498.35,85.68 501.80,82.78 504.00,80.90 C506.20,79.02 506.87,78.45 508.70,76.40 C510.53,74.35 512.98,71.42 515.00,68.60 C517.02,65.78 518.87,62.65 520.80,59.50 C522.73,56.35 524.70,52.95 526.60,49.70 C528.50,46.45 530.88,42.25 532.20,40.00 C533.52,37.75 534.12,36.83 534.50,36.20" fill="none" stroke="#3ab0fa" stroke-width="2.1" stroke-linecap="round"/>
<line x1="406.5" y1="104.8" x2="506.5" y2="104.8" stroke="#111" stroke-width="1.15" stroke-dasharray="1.1 1.1"/>
<line x1="495.5" y1="109.6" x2="536.3" y2="33.2" stroke="#111" stroke-width="1.05" stroke-dasharray="1.1 1.0"/>
<rect x="394.4" y="19.5" width="144.2" height="115.3" fill="none" stroke="#1a1a1a" stroke-width="1.2"/>
<line x1="391.8" y1="28.60" x2="394.4" y2="28.60" stroke="#1a1a1a" stroke-width="1"/>
<text x="390.6" y="30.70" font-size="8.1" font-weight="bold" font-family="Liberation Sans, sans-serif" text-anchor="end" fill="#0c0c0c" stroke="#0c0c0c" stroke-width="0.18">0.4</text>
<line x1="391.8" y1="47.90" x2="394.4" y2="47.90" stroke="#1a1a1a" stroke-width="1"/>
<text x="390.6" y="50.00" font-size="8.1" font-weight="bold" font-family="Liberation Sans, sans-serif" text-anchor="end" fill="#0c0c0c" stroke="#0c0c0c" stroke-width="0.18">0.3</text>
<line x1="391.8" y1="67.20" x2="394.4" y2="67.20" stroke="#1a1a1a" stroke-width="1"/>
<text x="390.6" y="69.30" font-size="8.1" font-weight="bold" font-family="Liberation Sans, sans-serif" text-anchor="end" fill="#0c0c0c" stroke="#0c0c0c" stroke-width="0.18">0.2</text>
<line x1="391.8" y1="86.50" x2="394.4" y2="86.50" stroke="#1a1a1a" stroke-width="1"/>
<text x="390.6" y="88.60" font-size="8.1" font-weight="bold" font-family="Liberation Sans, sans-serif" text-anchor="end" fill="#0c0c0c" stroke="#0c0c0c" stroke-width="0.18">0.1</text>
<line x1="391.8" y1="105.80" x2="394.4" y2="105.80" stroke="#1a1a1a" stroke-width="1"/>
<text x="390.6" y="107.90" font-size="8.1" font-weight="bold" font-family="Liberation Sans, sans-serif" text-anchor="end" fill="#0c0c0c" stroke="#0c0c0c" stroke-width="0.18">0.0</text>
<line x1="391.8" y1="125.10" x2="394.4" y2="125.10" stroke="#1a1a1a" stroke-width="1"/>
<text x="390.6" y="127.20" font-size="8.1" font-weight="bold" font-family="Liberation Sans, sans-serif" text-anchor="end" fill="#0c0c0c" stroke="#0c0c0c" stroke-width="0.18">-0.1</text>
<line x1="394.40" y1="134.8" x2="394.40" y2="137.0" stroke="#1a1a1a" stroke-width="1"/>
<text x="394.40" y="144.9" font-size="8.1" font-weight="bold" font-family="Liberation Sans, sans-serif" text-anchor="middle" fill="#0c0c0c" stroke="#0c0c0c" stroke-width="0.18">3.0</text>
<line x1="422.15" y1="134.8" x2="422.15" y2="137.0" stroke="#1a1a1a" stroke-width="1"/>
<text x="422.15" y="144.9" font-size="8.1" font-weight="bold" font-family="Liberation Sans, sans-serif" text-anchor="middle" fill="#0c0c0c" stroke="#0c0c0c" stroke-width="0.18">3.5</text>
<line x1="449.90" y1="134.8" x2="449.90" y2="137.0" stroke="#1a1a1a" stroke-width="1"/>
<text x="449.90" y="144.9" font-size="8.1" font-weight="bold" font-family="Liberation Sans, sans-serif" text-anchor="middle" fill="#0c0c0c" stroke="#0c0c0c" stroke-width="0.18">4.0</text>
<line x1="477.65" y1="134.8" x2="477.65" y2="137.0" stroke="#1a1a1a" stroke-width="1"/>
<text x="477.65" y="144.9" font-size="8.1" font-weight="bold" font-family="Liberation Sans, sans-serif" text-anchor="middle" fill="#0c0c0c" stroke="#0c0c0c" stroke-width="0.18">4.5</text>
<line x1="505.40" y1="134.8" x2="505.40" y2="137.0" stroke="#1a1a1a" stroke-width="1"/>
<text x="505.40" y="144.9" font-size="8.1" font-weight="bold" font-family="Liberation Sans, sans-serif" text-anchor="middle" fill="#0c0c0c" stroke="#0c0c0c" stroke-width="0.18">5.0</text>
<line x1="533.15" y1="134.8" x2="533.15" y2="137.0" stroke="#1a1a1a" stroke-width="1"/>
<text x="533.15" y="144.9" font-size="8.1" font-weight="bold" font-family="Liberation Sans, sans-serif" text-anchor="middle" fill="#0c0c0c" stroke="#0c0c0c" stroke-width="0.18">5.5</text>
<text x="466.4" y="156.8" font-size="9.8" font-weight="bold" font-family="Liberation Sans, sans-serif" text-anchor="middle" fill="#0c0c0c" stroke="#0c0c0c" stroke-width="0.18">Potential (V <tspan font-style="italic">vs</tspan> Li/Li<tspan font-size="5.6" dy="-3.0">+</tspan><tspan dy="3.0">)</tspan></text>
<text transform="translate(373.4 75.9) rotate(-90)" font-size="9.6" font-weight="bold" font-family="Liberation Sans, sans-serif" text-anchor="middle" fill="#0c0c0c" stroke="#0c0c0c" stroke-width="0.18">Current (mA)</text>
<line x1="405.3" y1="62.4" x2="419.1" y2="62.4" stroke="#3ab0fa" stroke-width="2"/>
<text x="421.5" y="65.4" font-size="10" font-weight="bold" font-family="Liberation Sans, sans-serif" fill="#0c0c0c" stroke="#0c0c0c" stroke-width="0.18">3% PAN@LLZTO</text>
<text x="6.1" y="152.7" font-size="18.6" font-family="Liberation Sans, sans-serif" fill="#000" stroke="#000" stroke-width="0.35">d</text>
<polygon points="37.0,197.40 45.0,197.90 130.0,197.90 234.0,197.90 235.0,197.10 300.0,197.40 320.0,198.00 420.0,199.40 446.0,199.80 447.0,200.50 538.0,201.20 538.0,263.20 480.0,263.80 420.0,264.60 320.0,265.60 262.0,265.90 260.0,267.00 235.0,267.00 233.0,265.90 160.0,265.90 130.0,266.20 60.0,266.60 37.0,267.00" fill="#9fbfe7"/>
<rect x="39" y="197.53" width="1" height="69.44" fill="#8fb5e3"/>
<rect x="40" y="197.59" width="1" height="69.36" fill="#aac8ec"/>
<rect x="41" y="197.65" width="1" height="69.28" fill="#8fb5e3"/>
<rect x="45" y="197.90" width="1" height="68.96" fill="#8fb5e3"/>
<rect x="51" y="197.90" width="1" height="68.86" fill="#8fb5e3"/>
<rect x="53" y="197.90" width="2" height="68.80" fill="#aac8ec"/>
<rect x="57" y="197.90" width="1" height="68.75" fill="#80a9dd"/>
<rect x="63" y="197.90" width="1" height="68.68" fill="#80a9dd"/>
<rect x="64" y="197.90" width="2" height="68.67" fill="#8fb5e3"/>
<rect x="66" y="197.90" width="1" height="68.67" fill="#80a9dd"/>
<rect x="67" y="197.90" width="1" height="68.66" fill="#aac8ec"/>
<rect x="68" y="197.90" width="1" height="68.65" fill="#80a9dd"/>
<rect x="71" y="197.90" width="3" height="68.63" fill="#80a9dd"/>
<rect x="75" y="197.90" width="1" height="68.61" fill="#8fb5e3"/>
<rect x="77" y="197.90" width="2" height="68.60" fill="#80a9dd"/>
<rect x="80" y="197.90" width="1" height="68.59" fill="#80a9dd"/>
<rect x="83" y="197.90" width="1" height="68.57" fill="#8fb5e3"/>
<rect x="86" y="197.90" width="1" height="68.55" fill="#aac8ec"/>
<rect x="88" y="197.90" width="1" height="68.54" fill="#8fb5e3"/>
<rect x="92" y="197.90" width="2" height="68.51" fill="#8fb5e3"/>
<rect x="100" y="197.90" width="1" height="68.47" fill="#8fb5e3"/>
<rect x="101" y="197.90" width="1" height="68.47" fill="#aac8ec"/>
<rect x="102" y="197.90" width="2" height="68.45" fill="#80a9dd"/>
<rect x="104" y="197.90" width="1" height="68.45" fill="#8fb5e3"/>
<rect x="112" y="197.90" width="1" height="68.40" fill="#8fb5e3"/>
<rect x="115" y="197.90" width="2" height="68.38" fill="#8fb5e3"/>
<rect x="119" y="197.90" width="1" height="68.36" fill="#8fb5e3"/>
<rect x="127" y="197.90" width="1" height="68.32" fill="#8fb5e3"/>
<rect x="129" y="197.90" width="1" height="68.31" fill="#80a9dd"/>
<rect x="130" y="197.90" width="1" height="68.30" fill="#8fb5e3"/>
<rect x="131" y="197.90" width="1" height="68.29" fill="#80a9dd"/>
<rect x="142" y="197.90" width="1" height="68.18" fill="#8fb5e3"/>
<rect x="147" y="197.90" width="2" height="68.12" fill="#aac8ec"/>
<rect x="149" y="197.90" width="1" height="68.11" fill="#80a9dd"/>
<rect x="150" y="197.90" width="1" height="68.10" fill="#8fb5e3"/>
<rect x="153" y="197.90" width="2" height="68.06" fill="#8fb5e3"/>
<rect x="156" y="197.90" width="1" height="68.04" fill="#8fb5e3"/>
<rect x="161" y="197.90" width="1" height="68.00" fill="#aac8ec"/>
<rect x="162" y="197.90" width="1" height="68.00" fill="#8fb5e3"/>
<rect x="163" y="197.90" width="1" height="68.00" fill="#80a9dd"/>
<rect x="165" y="197.90" width="1" height="68.00" fill="#aac8ec"/>
<rect x="166" y="197.90" width="1" height="68.00" fill="#80a9dd"/>
<rect x="167" y="197.90" width="1" height="68.00" fill="#8fb5e3"/>
<rect x="168" y="197.90" width="1" height="68.00" fill="#aac8ec"/>
<rect x="173" y="197.90" width="1" height="68.00" fill="#aac8ec"/>
<rect x="174" y="197.90" width="1" height="68.00" fill="#80a9dd"/>
<rect x="179" y="197.90" width="1" height="68.00" fill="#8fb5e3"/>
<rect x="181" y="197.90" width="1" height="68.00" fill="#80a9dd"/>
<rect x="186" y="197.90" width="2" height="68.00" fill="#8fb5e3"/>
<rect x="188" y="197.90" width="1" height="68.00" fill="#80a9dd"/>
<rect x="189" y="197.90" width="1" height="68.00" fill="#aac8ec"/>
<rect x="195" y="197.90" width="1" height="68.00" fill="#aac8ec"/>
<rect x="196" y="197.90" width="1" height="68.00" fill="#80a9dd"/>
<rect x="198" y="197.90" width="1" height="68.00" fill="#aac8ec"/>
<rect x="201" y="197.90" width="1" height="68.00" fill="#8fb5e3"/>
<rect x="202" y="197.90" width="1" height="68.00" fill="#80a9dd"/>
<rect x="203" y="197.90" width="1" height="68.00" fill="#aac8ec"/>
<rect x="205" y="197.90" width="1" height="68.00" fill="#80a9dd"/>
<rect x="208" y="197.90" width="1" height="68.00" fill="#8fb5e3"/>
<rect x="211" y="197.90" width="2" height="68.00" fill="#80a9dd"/>
<rect x="218" y="197.90" width="1" height="68.00" fill="#80a9dd"/>
<rect x="224" y="197.90" width="2" height="68.00" fill="#8fb5e3"/>
<rect x="226" y="197.90" width="1" height="68.00" fill="#aac8ec"/>
<rect x="227" y="197.90" width="1" height="68.00" fill="#8fb5e3"/>
<rect x="230" y="197.90" width="1" height="68.00" fill="#80a9dd"/>
<rect x="238" y="197.11" width="1" height="69.89" fill="#80a9dd"/>
<rect x="240" y="197.12" width="1" height="69.88" fill="#80a9dd"/>
<rect x="242" y="197.13" width="1" height="69.87" fill="#80a9dd"/>
<rect x="243" y="197.14" width="2" height="69.86" fill="#aac8ec"/>
<rect x="247" y="197.16" width="1" height="69.84" fill="#8fb5e3"/>
<rect x="250" y="197.17" width="2" height="69.83" fill="#8fb5e3"/>
<rect x="253" y="197.18" width="1" height="69.82" fill="#80a9dd"/>
<rect x="258" y="197.21" width="1" height="69.79" fill="#80a9dd"/>
<rect x="264" y="197.23" width="1" height="68.66" fill="#80a9dd"/>
<rect x="267" y="197.26" width="3" height="68.61" fill="#80a9dd"/>
<rect x="272" y="197.27" width="1" height="68.58" fill="#80a9dd"/>
<rect x="274" y="197.28" width="1" height="68.56" fill="#aac8ec"/>
<rect x="278" y="197.30" width="2" height="68.51" fill="#8fb5e3"/>
<rect x="285" y="197.33" width="1" height="68.45" fill="#8fb5e3"/>
<rect x="287" y="197.34" width="1" height="68.43" fill="#aac8ec"/>
<rect x="288" y="197.34" width="1" height="68.42" fill="#80a9dd"/>
<rect x="289" y="197.35" width="1" height="68.41" fill="#8fb5e3"/>
<rect x="291" y="197.36" width="1" height="68.39" fill="#80a9dd"/>
<rect x="292" y="197.36" width="1" height="68.38" fill="#8fb5e3"/>
<rect x="297" y="197.39" width="1" height="68.33" fill="#80a9dd"/>
<rect x="299" y="197.40" width="1" height="68.31" fill="#8fb5e3"/>
<rect x="302" y="197.49" width="2" height="68.20" fill="#8fb5e3"/>
<rect x="304" y="197.52" width="1" height="68.16" fill="#80a9dd"/>
<rect x="305" y="197.55" width="1" height="68.13" fill="#aac8ec"/>
<rect x="307" y="197.61" width="1" height="68.06" fill="#8fb5e3"/>
<rect x="312" y="197.76" width="1" height="67.88" fill="#aac8ec"/>
<rect x="318" y="197.94" width="1" height="67.67" fill="#aac8ec"/>
<rect x="319" y="198.00" width="2" height="67.60" fill="#80a9dd"/>
<rect x="321" y="198.03" width="2" height="67.55" fill="#8fb5e3"/>
<rect x="324" y="198.06" width="1" height="67.50" fill="#80a9dd"/>
<rect x="328" y="198.11" width="1" height="67.41" fill="#8fb5e3"/>
<rect x="330" y="198.14" width="1" height="67.36" fill="#aac8ec"/>
<rect x="332" y="198.17" width="1" height="67.31" fill="#80a9dd"/>
<rect x="336" y="198.22" width="1" height="67.22" fill="#8fb5e3"/>
<rect x="337" y="198.24" width="1" height="67.19" fill="#80a9dd"/>
<rect x="340" y="198.28" width="1" height="67.12" fill="#aac8ec"/>
<rect x="343" y="198.34" width="2" height="67.02" fill="#8fb5e3"/>
<rect x="346" y="198.36" width="1" height="66.98" fill="#8fb5e3"/>
<rect x="348" y="198.39" width="1" height="66.93" fill="#80a9dd"/>
<rect x="352" y="198.45" width="1" height="66.83" fill="#8fb5e3"/>
<rect x="354" y="198.48" width="1" height="66.78" fill="#8fb5e3"/>
<rect x="355" y="198.49" width="1" height="66.76" fill="#aac8ec"/>
<rect x="361" y="198.57" width="1" height="66.62" fill="#aac8ec"/>
<rect x="362" y="198.59" width="1" height="66.59" fill="#8fb5e3"/>
<rect x="363" y="198.60" width="1" height="66.57" fill="#aac8ec"/>
<rect x="367" y="198.66" width="1" height="66.47" fill="#aac8ec"/>
<rect x="374" y="198.76" width="1" height="66.30" fill="#80a9dd"/>
<rect x="376" y="198.81" width="3" height="66.21" fill="#8fb5e3"/>
<rect x="379" y="198.83" width="1" height="66.18" fill="#80a9dd"/>
<rect x="381" y="198.85" width="1" height="66.14" fill="#aac8ec"/>
<rect x="383" y="198.88" width="1" height="66.09" fill="#8fb5e3"/>
<rect x="386" y="198.92" width="1" height="66.02" fill="#8fb5e3"/>
<rect x="389" y="198.97" width="1" height="65.94" fill="#8fb5e3"/>
<rect x="390" y="198.98" width="1" height="65.92" fill="#aac8ec"/>
<rect x="395" y="199.05" width="1" height="65.80" fill="#8fb5e3"/>
<rect x="401" y="199.15" width="2" height="65.63" fill="#aac8ec"/>
<rect x="405" y="199.19" width="1" height="65.56" fill="#80a9dd"/>
<rect x="406" y="199.20" width="1" height="65.54" fill="#aac8ec"/>
<rect x="409" y="199.25" width="1" height="65.46" fill="#8fb5e3"/>
<rect x="410" y="199.26" width="1" height="65.44" fill="#80a9dd"/>
<rect x="415" y="199.34" width="2" height="65.30" fill="#8fb5e3"/>
<rect x="419" y="199.39" width="1" height="65.22" fill="#aac8ec"/>
<rect x="420" y="199.40" width="1" height="65.20" fill="#8fb5e3"/>
<rect x="424" y="199.46" width="1" height="65.09" fill="#aac8ec"/>
<rect x="426" y="199.49" width="1" height="65.03" fill="#80a9dd"/>
<rect x="432" y="199.58" width="1" height="64.86" fill="#8fb5e3"/>
<rect x="435" y="199.63" width="1" height="64.77" fill="#80a9dd"/>
<rect x="436" y="199.65" width="1" height="64.74" fill="#aac8ec"/>
<rect x="440" y="199.71" width="1" height="64.63" fill="#8fb5e3"/>
<rect x="443" y="199.75" width="1" height="64.54" fill="#aac8ec"/>
<rect x="445" y="199.78" width="1" height="64.48" fill="#8fb5e3"/>
<rect x="446" y="199.80" width="1" height="64.45" fill="#80a9dd"/>
<rect x="447" y="200.51" width="2" height="63.72" fill="#8fb5e3"/>
<rect x="454" y="200.55" width="1" height="63.59" fill="#8fb5e3"/>
<rect x="456" y="200.57" width="1" height="63.55" fill="#8fb5e3"/>
<rect x="457" y="200.58" width="1" height="63.53" fill="#80a9dd"/>
<rect x="459" y="200.59" width="1" height="63.49" fill="#80a9dd"/>
<rect x="466" y="200.65" width="2" height="63.32" fill="#8fb5e3"/>
<rect x="474" y="200.71" width="1" height="63.17" fill="#aac8ec"/>
<rect x="481" y="200.76" width="1" height="63.03" fill="#aac8ec"/>
<rect x="483" y="200.78" width="2" height="62.97" fill="#aac8ec"/>
<rect x="486" y="200.80" width="1" height="62.94" fill="#8fb5e3"/>
<rect x="489" y="200.83" width="2" height="62.87" fill="#aac8ec"/>
<rect x="493" y="200.86" width="2" height="62.79" fill="#8fb5e3"/>
<rect x="498" y="200.89" width="1" height="62.72" fill="#8fb5e3"/>
<rect x="499" y="200.90" width="1" height="62.70" fill="#aac8ec"/>
<rect x="501" y="200.92" width="1" height="62.67" fill="#8fb5e3"/>
<rect x="502" y="200.92" width="1" height="62.65" fill="#80a9dd"/>
<rect x="504" y="200.94" width="1" height="62.61" fill="#80a9dd"/>
<rect x="507" y="200.96" width="1" height="62.56" fill="#aac8ec"/>
<rect x="509" y="200.98" width="1" height="62.52" fill="#8fb5e3"/>
<rect x="510" y="200.98" width="1" height="62.51" fill="#aac8ec"/>
<rect x="513" y="201.01" width="1" height="62.45" fill="#8fb5e3"/>
<rect x="516" y="201.03" width="1" height="62.40" fill="#8fb5e3"/>
<rect x="519" y="201.05" width="1" height="62.34" fill="#aac8ec"/>
<rect x="520" y="201.06" width="1" height="62.32" fill="#8fb5e3"/>
<rect x="523" y="201.08" width="1" height="62.27" fill="#8fb5e3"/>
<rect x="526" y="201.12" width="2" height="62.20" fill="#8fb5e3"/>
<rect x="529" y="201.13" width="1" height="62.16" fill="#80a9dd"/>
<rect x="530" y="201.15" width="2" height="62.13" fill="#8fb5e3"/>
<rect x="534" y="201.17" width="1" height="62.07" fill="#aac8ec"/>
<rect x="535" y="201.18" width="1" height="62.05" fill="#8fb5e3"/>
<polyline points="37.0,197.80 45.0,198.30 130.0,198.30 234.0,198.30 235.0,197.50 300.0,197.80 320.0,198.40 420.0,199.80 446.0,200.20 447.0,200.90 538.0,201.60" fill="none" stroke="#6f9bd8" stroke-width="0.9" stroke-dasharray="1.2 0.6"/>
<polyline points="37.0,266.60 60.0,266.20 130.0,265.80 160.0,265.50 233.0,265.50 235.0,266.60 260.0,266.60 262.0,265.50 320.0,265.20 420.0,264.20 480.0,263.40 538.0,262.80" fill="none" stroke="#6f9bd8" stroke-width="0.9" stroke-dasharray="1.2 0.6"/>
<line x1="36.9" y1="165" x2="36.9" y2="279" stroke="#7aa8e0" stroke-width="1"/>
<polygon points="35.2,209.2 37.8,209.4 38.7,212.0 39.4,217.5 40.4,222.0 41.8,225.2 43.8,227.3 46.5,228.5 50.0,228.9 538.0,228.9 538.0,236.4 50.0,236.3 46.5,236.6 43.8,237.7 41.8,239.6 40.4,242.8 39.4,247.5 38.7,252.5 37.8,255.8 35.2,255.9" fill="#f9a762"/>
<rect x="48" y="229.6" width="1" height="6.2" fill="#f6a05a"/>
<rect x="49" y="229.6" width="1" height="6.2" fill="#fdbf8a"/>
<rect x="51" y="229.6" width="1" height="6.2" fill="#fcb67a"/>
<rect x="52" y="229.6" width="1" height="6.2" fill="#f6a05a"/>
<rect x="58" y="229.6" width="1" height="6.2" fill="#f6a05a"/>
<rect x="59" y="229.6" width="1" height="6.2" fill="#fdbf8a"/>
<rect x="61" y="229.6" width="1" height="6.2" fill="#f6a05a"/>
<rect x="62" y="229.6" width="1" height="6.2" fill="#fcb67a"/>
<rect x="64" y="229.6" width="1" height="6.2" fill="#fdbf8a"/>
<rect x="67" y="229.6" width="1" height="6.2" fill="#fcb67a"/>
<rect x="70" y="229.6" width="1" height="6.2" fill="#fdbf8a"/>
<rect x="71" y="229.6" width="1" height="6.2" fill="#fcb67a"/>
<rect x="73" y="229.6" width="1" height="6.2" fill="#fdbf8a"/>
<rect x="74" y="229.6" width="1" height="6.2" fill="#f6a05a"/>
<rect x="75" y="229.6" width="1" height="6.2" fill="#f6a05a"/>
<rect x="79" y="229.6" width="1" height="6.2" fill="#fdbf8a"/>
<rect x="83" y="229.6" width="1" height="6.2" fill="#f6a05a"/>
<rect x="84" y="229.6" width="1" height="6.2" fill="#fcb67a"/>
<rect x="85" y="229.6" width="1" height="6.2" fill="#fdbf8a"/>
<rect x="86" y="229.6" width="1" height="6.2" fill="#fcb67a"/>
<rect x="87" y="229.6" width="1" height="6.2" fill="#fcb67a"/>
<rect x="88" y="229.6" width="1" height="6.2" fill="#f6a05a"/>
<rect x="91" y="229.6" width="1" height="6.2" fill="#fdbf8a"/>
<rect x="95" y="229.6" width="1" height="6.2" fill="#fdbf8a"/>
<rect x="96" y="229.6" width="1" height="6.2" fill="#f6a05a"/>
<rect x="97" y="229.6" width="1" height="6.2" fill="#fdbf8a"/>
<rect x="98" y="229.6" width="1" height="6.2" fill="#fcb67a"/>
<rect x="99" y="229.6" width="1" height="6.2" fill="#f6a05a"/>
<rect x="100" y="229.6" width="1" height="6.2" fill="#fcb67a"/>
<rect x="105" y="229.6" width="1" height="6.2" fill="#fcb67a"/>
<rect x="109" y="229.6" width="1" height="6.2" fill="#fcb67a"/>
<rect x="110" y="229.6" width="1" height="6.2" fill="#f6a05a"/>
<rect x="111" y="229.6" width="1" height="6.2" fill="#fdbf8a"/>
<rect x="113" y="229.6" width="1" height="6.2" fill="#f6a05a"/>
<rect x="114" y="229.6" width="1" height="6.2" fill="#f6a05a"/>
<rect x="116" y="229.6" width="1" height="6.2" fill="#fcb67a"/>
<rect x="119" y="229.6" width="1" height="6.2" fill="#fcb67a"/>
<rect x="126" y="229.6" width="1" height="6.2" fill="#fcb67a"/>
<rect x="128" y="229.6" width="1" height="6.2" fill="#fdbf8a"/>
<rect x="130" y="229.6" width="1" height="6.2" fill="#fcb67a"/>
<rect x="131" y="229.6" width="1" height="6.2" fill="#f6a05a"/>
<rect x="134" y="229.6" width="1" height="6.2" fill="#fcb67a"/>
<rect x="136" y="229.6" width="1" height="6.2" fill="#f6a05a"/>
<rect x="137" y="229.6" width="1" height="6.2" fill="#f6a05a"/>
<rect x="140" y="229.6" width="1" height="6.2" fill="#fcb67a"/>
<rect x="142" y="229.6" width="1" height="6.2" fill="#fcb67a"/>
<rect x="143" y="229.6" width="1" height="6.2" fill="#fdbf8a"/>
<rect x="144" y="229.6" width="1" height="6.2" fill="#fdbf8a"/>
<rect x="146" y="229.6" width="1" height="6.2" fill="#f6a05a"/>
<rect x="148" y="229.6" width="1" height="6.2" fill="#fcb67a"/>
<rect x="149" y="229.6" width="1" height="6.2" fill="#f6a05a"/>
<rect x="150" y="229.6" width="1" height="6.2" fill="#fcb67a"/>
<rect x="155" y="229.6" width="1" height="6.2" fill="#f6a05a"/>
<rect x="156" y="229.6" width="1" height="6.2" fill="#f6a05a"/>
<rect x="157" y="229.6" width="1" height="6.2" fill="#fdbf8a"/>
<rect x="159" y="229.6" width="1" height="6.2" fill="#fdbf8a"/>
<rect x="161" y="229.6" width="1" height="6.2" fill="#f6a05a"/>
<rect x="163" y="229.6" width="1" height="6.2" fill="#f6a05a"/>
<rect x="164" y="229.6" width="1" height="6.2" fill="#f6a05a"/>
<rect x="165" y="229.6" width="1" height="6.2" fill="#fdbf8a"/>
<rect x="167" y="229.6" width="1" height="6.2" fill="#fcb67a"/>
<rect x="170" y="229.6" width="1" height="6.2" fill="#fdbf8a"/>
<rect x="171" y="229.6" width="1" height="6.2" fill="#fcb67a"/>
<rect x="173" y="229.6" width="1" height="6.2" fill="#f6a05a"/>
<rect x="176" y="229.6" width="1" height="6.2" fill="#fdbf8a"/>
<rect x="178" y="229.6" width="1" height="6.2" fill="#fdbf8a"/>
<rect x="182" y="229.6" width="1" height="6.2" fill="#f6a05a"/>
<rect x="183" y="229.6" width="1" height="6.2" fill="#f6a05a"/>
<rect x="184" y="229.6" width="1" height="6.2" fill="#f6a05a"/>
<rect x="185" y="229.6" width="1" height="6.2" fill="#fcb67a"/>
<rect x="186" y="229.6" width="1" height="6.2" fill="#fdbf8a"/>
<rect x="191" y="229.6" width="1" height="6.2" fill="#f6a05a"/>
<rect x="192" y="229.6" width="1" height="6.2" fill="#f6a05a"/>
<rect x="193" y="229.6" width="1" height="6.2" fill="#fcb67a"/>
<rect x="194" y="229.6" width="1" height="6.2" fill="#fdbf8a"/>
<rect x="196" y="229.6" width="1" height="6.2" fill="#f6a05a"/>
<rect x="197" y="229.6" width="1" height="6.2" fill="#fdbf8a"/>
<rect x="198" y="229.6" width="1" height="6.2" fill="#fdbf8a"/>
<rect x="200" y="229.6" width="1" height="6.2" fill="#fdbf8a"/>
<rect x="205" y="229.6" width="1" height="6.2" fill="#fcb67a"/>
<rect x="210" y="229.6" width="1" height="6.2" fill="#fdbf8a"/>
<rect x="214" y="229.6" width="1" height="6.2" fill="#fdbf8a"/>
<rect x="215" y="229.6" width="1" height="6.2" fill="#fcb67a"/>
<rect x="216" y="229.6" width="1" height="6.2" fill="#f6a05a"/>
<rect x="217" y="229.6" width="1" height="6.2" fill="#f6a05a"/>
<rect x="219" y="229.6" width="1" height="6.2" fill="#fdbf8a"/>
<rect x="221" y="229.6" width="1" height="6.2" fill="#fdbf8a"/>
<rect x="223" y="229.6" width="1" height="6.2" fill="#fdbf8a"/>
<rect x="224" y="229.6" width="1" height="6.2" fill="#f6a05a"/>
<rect x="225" y="229.6" width="1" height="6.2" fill="#f6a05a"/>
<rect x="226" y="229.6" width="1" height="6.2" fill="#fcb67a"/>
<rect x="229" y="229.6" width="1" height="6.2" fill="#fdbf8a"/>
<rect x="231" y="229.6" width="1" height="6.2" fill="#fdbf8a"/>
<rect x="233" y="229.6" width="1" height="6.2" fill="#f6a05a"/>
<rect x="237" y="229.6" width="1" height="6.2" fill="#f6a05a"/>
<rect x="240" y="229.6" width="1" height="6.2" fill="#f6a05a"/>
<rect x="244" y="229.6" width="1" height="6.2" fill="#f6a05a"/>
<rect x="246" y="229.6" width="1" height="6.2" fill="#f6a05a"/>
<rect x="247" y="229.6" width="1" height="6.2" fill="#fdbf8a"/>
<rect x="249" y="229.6" width="1" height="6.2" fill="#fdbf8a"/>
<rect x="250" y="229.6" width="1" height="6.2" fill="#fcb67a"/>
<rect x="251" y="229.6" width="1" height="6.2" fill="#f6a05a"/>
<rect x="253" y="229.6" width="1" height="6.2" fill="#fdbf8a"/>
<rect x="256" y="229.6" width="1" height="6.2" fill="#f6a05a"/>
<rect x="257" y="229.6" width="1" height="6.2" fill="#fdbf8a"/>
<rect x="258" y="229.6" width="1" height="6.2" fill="#fdbf8a"/>
<rect x="259" y="229.6" width="1" height="6.2" fill="#fcb67a"/>
<rect x="260" y="229.6" width="1" height="6.2" fill="#fcb67a"/>
<rect x="261" y="229.6" width="1" height="6.2" fill="#fdbf8a"/>
<rect x="262" y="229.6" width="1" height="6.2" fill="#fcb67a"/>
<rect x="264" y="229.6" width="1" height="6.2" fill="#f6a05a"/>
<rect x="266" y="229.6" width="1" height="6.2" fill="#fdbf8a"/>
<rect x="269" y="229.6" width="1" height="6.2" fill="#f6a05a"/>
<rect x="270" y="229.6" width="1" height="6.2" fill="#f6a05a"/>
<rect x="273" y="229.6" width="1" height="6.2" fill="#fcb67a"/>
<rect x="276" y="229.6" width="1" height="6.2" fill="#fdbf8a"/>
<rect x="277" y="229.6" width="1" height="6.2" fill="#fdbf8a"/>
<rect x="278" y="229.6" width="1" height="6.2" fill="#fcb67a"/>
<rect x="282" y="229.6" width="1" height="6.2" fill="#fdbf8a"/>
<rect x="283" y="229.6" width="1" height="6.2" fill="#f6a05a"/>
<rect x="285" y="229.6" width="1" height="6.2" fill="#fdbf8a"/>
<rect x="289" y="229.6" width="1" height="6.2" fill="#fdbf8a"/>
<rect x="291" y="229.6" width="1" height="6.2" fill="#fdbf8a"/>
<rect x="295" y="229.6" width="1" height="6.2" fill="#f6a05a"/>
<rect x="296" y="229.6" width="1" height="6.2" fill="#f6a05a"/>
<rect x="297" y="229.6" width="1" height="6.2" fill="#fcb67a"/>
<rect x="299" y="229.6" width="1" height="6.2" fill="#fcb67a"/>
<rect x="300" y="229.6" width="1" height="6.2" fill="#fcb67a"/>
<rect x="301" y="229.6" width="1" height="6.2" fill="#fdbf8a"/>
<rect x="303" y="229.6" width="1" height="6.2" fill="#fdbf8a"/>
<rect x="305" y="229.6" width="1" height="6.2" fill="#fdbf8a"/>
<rect x="307" y="229.6" width="1" height="6.2" fill="#fcb67a"/>
<rect x="309" y="229.6" width="1" height="6.2" fill="#fcb67a"/>
<rect x="310" y="229.6" width="1" height="6.2" fill="#fdbf8a"/>
<rect x="311" y="229.6" width="1" height="6.2" fill="#f6a05a"/>
<rect x="312" y="229.6" width="1" height="6.2" fill="#fdbf8a"/>
<rect x="313" y="229.6" width="1" height="6.2" fill="#fdbf8a"/>
<rect x="317" y="229.6" width="1" height="6.2" fill="#f6a05a"/>
<rect x="322" y="229.6" width="1" height="6.2" fill="#f6a05a"/>
<rect x="323" y="229.6" width="1" height="6.2" fill="#fcb67a"/>
<rect x="324" y="229.6" width="1" height="6.2" fill="#fdbf8a"/>
<rect x="325" y="229.6" width="1" height="6.2" fill="#fdbf8a"/>
<rect x="331" y="229.6" width="1" height="6.2" fill="#fdbf8a"/>
<rect x="332" y="229.6" width="1" height="6.2" fill="#f6a05a"/>
<rect x="341" y="229.6" width="1" height="6.2" fill="#fcb67a"/>
<rect x="343" y="229.6" width="1" height="6.2" fill="#fcb67a"/>
<rect x="344" y="229.6" width="1" height="6.2" fill="#f6a05a"/>
<rect x="345" y="229.6" width="1" height="6.2" fill="#fcb67a"/>
<rect x="346" y="229.6" width="1" height="6.2" fill="#fdbf8a"/>
<rect x="347" y="229.6" width="1" height="6.2" fill="#f6a05a"/>
<rect x="350" y="229.6" width="1" height="6.2" fill="#fdbf8a"/>
<rect x="355" y="229.6" width="1" height="6.2" fill="#fcb67a"/>
<rect x="358" y="229.6" width="1" height="6.2" fill="#f6a05a"/>
<rect x="359" y="229.6" width="1" height="6.2" fill="#f6a05a"/>
<rect x="361" y="229.6" width="1" height="6.2" fill="#f6a05a"/>
<rect x="362" y="229.6" width="1" height="6.2" fill="#fdbf8a"/>
<rect x="363" y="229.6" width="1" height="6.2" fill="#f6a05a"/>
<rect x="365" y="229.6" width="1" height="6.2" fill="#f6a05a"/>
<rect x="366" y="229.6" width="1" height="6.2" fill="#fcb67a"/>
<rect x="369" y="229.6" width="1" height="6.2" fill="#fdbf8a"/>
<rect x="370" y="229.6" width="1" height="6.2" fill="#f6a05a"/>
<rect x="372" y="229.6" width="1" height="6.2" fill="#fdbf8a"/>
<rect x="375" y="229.6" width="1" height="6.2" fill="#fcb67a"/>
<rect x="376" y="229.6" width="1" height="6.2" fill="#fdbf8a"/>
<rect x="379" y="229.6" width="1" height="6.2" fill="#f6a05a"/>
<rect x="380" y="229.6" width="1" height="6.2" fill="#fcb67a"/>
<rect x="383" y="229.6" width="1" height="6.2" fill="#f6a05a"/>
<rect x="384" y="229.6" width="1" height="6.2" fill="#fcb67a"/>
<rect x="394" y="229.6" width="1" height="6.2" fill="#fdbf8a"/>
<rect x="395" y="229.6" width="1" height="6.2" fill="#f6a05a"/>
<rect x="396" y="229.6" width="1" height="6.2" fill="#fdbf8a"/>
<rect x="398" y="229.6" width="1" height="6.2" fill="#fcb67a"/>
<rect x="399" y="229.6" width="1" height="6.2" fill="#fdbf8a"/>
<rect x="403" y="229.6" width="1" height="6.2" fill="#fcb67a"/>
<rect x="406" y="229.6" width="1" height="6.2" fill="#f6a05a"/>
<rect x="408" y="229.6" width="1" height="6.2" fill="#f6a05a"/>
<rect x="409" y="229.6" width="1" height="6.2" fill="#f6a05a"/>
<rect x="411" y="229.6" width="1" height="6.2" fill="#fdbf8a"/>
<rect x="412" y="229.6" width="1" height="6.2" fill="#f6a05a"/>
<rect x="413" y="229.6" width="1" height="6.2" fill="#f6a05a"/>
<rect x="414" y="229.6" width="1" height="6.2" fill="#fdbf8a"/>
<rect x="415" y="229.6" width="1" height="6.2" fill="#fdbf8a"/>
<rect x="420" y="229.6" width="1" height="6.2" fill="#fcb67a"/>
<rect x="421" y="229.6" width="1" height="6.2" fill="#fcb67a"/>
<rect x="422" y="229.6" width="1" height="6.2" fill="#f6a05a"/>
<rect x="423" y="229.6" width="1" height="6.2" fill="#fcb67a"/>
<rect x="424" y="229.6" width="1" height="6.2" fill="#fdbf8a"/>
<rect x="425" y="229.6" width="1" height="6.2" fill="#fcb67a"/>
<rect x="426" y="229.6" width="1" height="6.2" fill="#fdbf8a"/>
<rect x="428" y="229.6" width="1" height="6.2" fill="#f6a05a"/>
<rect x="431" y="229.6" width="1" height="6.2" fill="#f6a05a"/>
<rect x="432" y="229.6" width="1" height="6.2" fill="#fdbf8a"/>
<rect x="433" y="229.6" width="1" height="6.2" fill="#fdbf8a"/>
<rect x="435" y="229.6" width="1" height="6.2" fill="#fdbf8a"/>
<rect x="437" y="229.6" width="1" height="6.2" fill="#fdbf8a"/>
<rect x="439" y="229.6" width="1" height="6.2" fill="#fdbf8a"/>
<rect x="446" y="229.6" width="1" height="6.2" fill="#fdbf8a"/>
<rect x="447" y="229.6" width="1" height="6.2" fill="#fcb67a"/>
<rect x="448" y="229.6" width="1" height="6.2" fill="#fcb67a"/>
<rect x="449" y="229.6" width="1" height="6.2" fill="#fcb67a"/>
<rect x="450" y="229.6" width="1" height="6.2" fill="#fdbf8a"/>
<rect x="454" y="229.6" width="1" height="6.2" fill="#fdbf8a"/>
<rect x="456" y="229.6" width="1" height="6.2" fill="#f6a05a"/>
<rect x="457" y="229.6" width="1" height="6.2" fill="#fdbf8a"/>
<rect x="461" y="229.6" width="1" height="6.2" fill="#f6a05a"/>
<rect x="462" y="229.6" width="1" height="6.2" fill="#fdbf8a"/>
<rect x="463" y="229.6" width="1" height="6.2" fill="#fdbf8a"/>
<rect x="464" y="229.6" width="1" height="6.2" fill="#fcb67a"/>
<rect x="465" y="229.6" width="1" height="6.2" fill="#f6a05a"/>
<rect x="466" y="229.6" width="1" height="6.2" fill="#f6a05a"/>
<rect x="467" y="229.6" width="1" height="6.2" fill="#fdbf8a"/>
<rect x="468" y="229.6" width="1" height="6.2" fill="#f6a05a"/>
<rect x="474" y="229.6" width="1" height="6.2" fill="#fcb67a"/>
<rect x="476" y="229.6" width="1" height="6.2" fill="#fdbf8a"/>
<rect x="479" y="229.6" width="1" height="6.2" fill="#fcb67a"/>
<rect x="480" y="229.6" width="1" height="6.2" fill="#fcb67a"/>
<rect x="481" y="229.6" width="1" height="6.2" fill="#f6a05a"/>
<rect x="484" y="229.6" width="1" height="6.2" fill="#fdbf8a"/>
<rect x="490" y="229.6" width="1" height="6.2" fill="#fdbf8a"/>
<rect x="492" y="229.6" width="1" height="6.2" fill="#fdbf8a"/>
<rect x="495" y="229.6" width="1" height="6.2" fill="#fcb67a"/>
<rect x="496" y="229.6" width="1" height="6.2" fill="#f6a05a"/>
<rect x="499" y="229.6" width="1" height="6.2" fill="#f6a05a"/>
<rect x="500" y="229.6" width="1" height="6.2" fill="#fcb67a"/>
<rect x="501" y="229.6" width="1" height="6.2" fill="#f6a05a"/>
<rect x="502" y="229.6" width="1" height="6.2" fill="#fcb67a"/>
<rect x="506" y="229.6" width="1" height="6.2" fill="#f6a05a"/>
<rect x="508" y="229.6" width="1" height="6.2" fill="#f6a05a"/>
<rect x="509" y="229.6" width="1" height="6.2" fill="#fcb67a"/>
<rect x="514" y="229.6" width="1" height="6.2" fill="#fdbf8a"/>
<rect x="515" y="229.6" width="1" height="6.2" fill="#f6a05a"/>
<rect x="516" y="229.6" width="1" height="6.2" fill="#fcb67a"/>
<rect x="520" y="229.6" width="1" height="6.2" fill="#f6a05a"/>
<rect x="521" y="229.6" width="1" height="6.2" fill="#f6a05a"/>
<rect x="525" y="229.6" width="1" height="6.2" fill="#fdbf8a"/>
<rect x="526" y="229.6" width="1" height="6.2" fill="#f6a05a"/>
<rect x="530" y="229.6" width="1" height="6.2" fill="#fcb67a"/>
<rect x="532" y="229.6" width="1" height="6.2" fill="#fdbf8a"/>
<rect x="533" y="229.6" width="1" height="6.2" fill="#f6a05a"/>
<rect x="534" y="229.6" width="1" height="6.2" fill="#fcb67a"/>
<rect x="536" y="229.6" width="1" height="6.2" fill="#f6a05a"/>
<line x1="46" y1="229.3" x2="538" y2="229.3" stroke="#f38a36" stroke-width="0.9" stroke-dasharray="1.2 0.9"/>
<line x1="46" y1="235.8" x2="538" y2="235.8" stroke="#f38a36" stroke-width="0.9" stroke-dasharray="1.2 0.9"/>
<line x1="35.7" y1="165" x2="35.7" y2="279" stroke="#f0903c" stroke-width="1"/>
<rect x="34.6" y="164.5" width="504.0" height="115.0" fill="none" stroke="#1a1a1a" stroke-width="1.2"/>
<line x1="31.8" y1="170.10" x2="34.6" y2="170.10" stroke="#1a1a1a" stroke-width="1"/>
<text x="30.2" y="173.20" font-size="8.9" font-weight="bold" font-family="Liberation Sans, sans-serif" text-anchor="end" fill="#0c0c0c" stroke="#0c0c0c" stroke-width="0.18">20</text>
<line x1="31.8" y1="201.20" x2="34.6" y2="201.20" stroke="#1a1a1a" stroke-width="1"/>
<text x="30.2" y="204.30" font-size="8.9" font-weight="bold" font-family="Liberation Sans, sans-serif" text-anchor="end" fill="#0c0c0c" stroke="#0c0c0c" stroke-width="0.18">10</text>
<line x1="31.8" y1="232.30" x2="34.6" y2="232.30" stroke="#1a1a1a" stroke-width="1"/>
<text x="30.2" y="235.40" font-size="8.9" font-weight="bold" font-family="Liberation Sans, sans-serif" text-anchor="end" fill="#0c0c0c" stroke="#0c0c0c" stroke-width="0.18">0</text>
<line x1="31.8" y1="263.40" x2="34.6" y2="263.40" stroke="#1a1a1a" stroke-width="1"/>
<text x="30.2" y="266.50" font-size="8.9" font-weight="bold" font-family="Liberation Sans, sans-serif" text-anchor="end" fill="#0c0c0c" stroke="#0c0c0c" stroke-width="0.18">-10</text>
<line x1="33.0" y1="185.65" x2="34.6" y2="185.65" stroke="#1a1a1a" stroke-width="0.9"/>
<line x1="33.0" y1="216.75" x2="34.6" y2="216.75" stroke="#1a1a1a" stroke-width="0.9"/>
<line x1="33.0" y1="247.85" x2="34.6" y2="247.85" stroke="#1a1a1a" stroke-width="0.9"/>
<line x1="34.70" y1="279.5" x2="34.70" y2="282.1" stroke="#1a1a1a" stroke-width="1"/>
<text x="34.70" y="290.6" font-size="9" font-weight="bold" font-family="Liberation Sans, sans-serif" text-anchor="middle" fill="#0c0c0c" stroke="#0c0c0c" stroke-width="0.18">0</text>
<line x1="146.70" y1="279.5" x2="146.70" y2="282.1" stroke="#1a1a1a" stroke-width="1"/>
<text x="146.70" y="290.6" font-size="9" font-weight="bold" font-family="Liberation Sans, sans-serif" text-anchor="middle" fill="#0c0c0c" stroke="#0c0c0c" stroke-width="0.18">100</text>
<line x1="258.70" y1="279.5" x2="258.70" y2="282.1" stroke="#1a1a1a" stroke-width="1"/>
<text x="258.70" y="290.6" font-size="9" font-weight="bold" font-family="Liberation Sans, sans-serif" text-anchor="middle" fill="#0c0c0c" stroke="#0c0c0c" stroke-width="0.18">200</text>
<line x1="370.70" y1="279.5" x2="370.70" y2="282.1" stroke="#1a1a1a" stroke-width="1"/>
<text x="370.70" y="290.6" font-size="9" font-weight="bold" font-family="Liberation Sans, sans-serif" text-anchor="middle" fill="#0c0c0c" stroke="#0c0c0c" stroke-width="0.18">300</text>
<line x1="482.70" y1="279.5" x2="482.70" y2="282.1" stroke="#1a1a1a" stroke-width="1"/>
<text x="482.70" y="290.6" font-size="9" font-weight="bold" font-family="Liberation Sans, sans-serif" text-anchor="middle" fill="#0c0c0c" stroke="#0c0c0c" stroke-width="0.18">400</text>
<line x1="90.70" y1="279.5" x2="90.70" y2="281.1" stroke="#1a1a1a" stroke-width="0.9"/>
<line x1="202.70" y1="279.5" x2="202.70" y2="281.1" stroke="#1a1a1a" stroke-width="0.9"/>
<line x1="314.70" y1="279.5" x2="314.70" y2="281.1" stroke="#1a1a1a" stroke-width="0.9"/>
<line x1="426.70" y1="279.5" x2="426.70" y2="281.1" stroke="#1a1a1a" stroke-width="0.9"/>
<line x1="538.70" y1="279.5" x2="538.70" y2="281.1" stroke="#1a1a1a" stroke-width="0.9"/>
<text x="287.4" y="301.9" font-size="10.8" font-weight="bold" font-family="Liberation Sans, sans-serif" text-anchor="middle" fill="#0c0c0c" stroke="#0c0c0c" stroke-width="0.18">Time (h)</text>
<text transform="translate(12.6 221.6) rotate(-90) scale(1.13 1)" font-size="10" font-weight="bold" font-family="Liberation Sans, sans-serif" text-anchor="middle" fill="#0c0c0c" stroke="#0c0c0c" stroke-width="0.18">Voltage <tspan font-weight="normal" font-size="9">(</tspan>mV vs.Li/Li<tspan font-size="6.5" dy="-3.5">+</tspan><tspan dy="3.5" font-weight="normal" font-size="9">)</tspan></text>
<line x1="196.9" y1="181.1" x2="210.5" y2="181.1" stroke="#6fa2e0" stroke-width="1.2"/>
<text x="213.4" y="184.0" font-size="10" font-weight="bold" font-family="Liberation Sans, sans-serif" fill="#0c0c0c" stroke="#0c0c0c" stroke-width="0.18">LLZTO</text>
<line x1="282.6" y1="181.5" x2="296.4" y2="181.5" stroke="#f79a50" stroke-width="1.2"/>
<text x="299.6" y="184.4" font-size="10.2" font-weight="bold" font-family="Liberation Sans, sans-serif" fill="#0c0c0c" stroke="#0c0c0c" stroke-width="0.18">3% PAN@LLZTO</text>
</svg>
</body></html>
